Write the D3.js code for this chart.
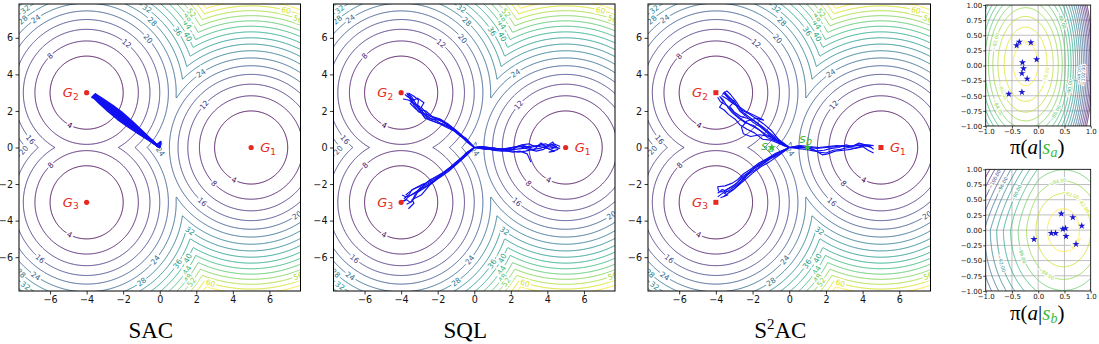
<!DOCTYPE html>
<html><head><meta charset="utf-8">
<script src="https://cdn.jsdelivr.net/npm/d3@7"></script>
<style>body{margin:0;background:#fff}svg{display:block}</style>
</head><body>
<svg id="c" width="1099" height="344"></svg>
<script>
// ---------------- DATA ----------------
const goals = [[5,0],[-4,3],[-4,-3]];
const goalSub = ["1","2","3"];
const envLevels = [4,8,12,16,20,24,28,32,36,40,44,48,52,56,60,64];
const envTicks = [-6,-4,-2,0,2,4,6];
const panelTitles = ["SAC","SQL","S2AC"];
// contour label anchors: [level, x, y]
const envLabelSpots = [[32,-7.4,7.6],[28,-7.5,7.0],[24,-6.9,7.2],[8,-6.0,5.0],[12,-1.8,5.7],[20,-0.7,5.9],[28,-0.4,6.9],[32,-0.7,7.6],
 [36,0.69,6.17],[40,1.24,5.9],[44,1.5,6.72],[48,1.6,7.18],[52,1.97,7.54],[56,7.55,7.0],[60,6.9,7.47],[24,2.24,4.09],[12,2.4,2.35],
 [4,-4.9,1.25],[16,-7.1,0.42],[20,-7.47,-0.13],[24,0.04,-0.22],[8,-6,-0.95],[4,4.07,-1.77],[8,2.97,-1.96],[16,2.33,-2.97],[20,7.5,-3.7],
 [4,-4.9,-4.7],[32,1.7,-4.5],[16,-6.55,-6.08],[28,-7.6,-6.9],[24,-6.8,-7.05],[32,-7.37,-7.6],[28,-1.05,-7.27],[24,-0.32,-6.08],
 [36,0.69,-6.17],[40,1.24,-5.9],[44,1.5,-6.72],[48,1.6,-7.18],[52,1.97,-7.54],[60,2.8,-7.36],[56,7.55,-7.0]];

const sacTraj = [
 [[0,0],[0.05,0.32],[-0.12,0.18],[0,0]],
 [[0,0],[-0.53,0.45],[-1.04,0.90],[-1.56,1.36],[-2.09,1.80],[-2.64,2.22],[-3.19,2.63],[-3.57,2.89]],
 [[0,0],[-0.55,0.41],[-1.11,0.816],[-1.67,1.22],[-2.22,1.63],[-2.76,2.07],[-3.28,2.52],[-3.62,2.82]],
 [[0,0],[-0.515,0.46],[-1.018,0.933],[-1.533,1.389],[-2.067,1.827],[-2.619,2.241],[-3.178,2.643],[-3.55,2.91]],
 [[0,0],[-0.559,0.407],[-1.13,0.79],[-1.694,1.186],[-2.24,1.61],[-2.762,2.062],[-3.29,2.50],[-3.64,2.80]],
 [[0,0],[-0.534,0.438],[-1.068,0.871],[-1.595,1.311],[-2.129,1.749],[-2.681,2.163],[-3.228,2.581],[-3.54,2.93]],
 [[0,0],[-0.546,0.422],[-1.092,0.839],[-1.639,1.257],[-2.172,1.694],[-2.725,2.109],[-3.271,2.526],[-3.66,2.77]],
 [[0,0],[-0.52,0.45],[-1.04,0.91],[-1.57,1.34],[-2.10,1.78],[-2.66,2.19],[-3.22,2.60],[-3.59,2.87]],
 [[0,0],[-0.565,0.399],[-1.142,0.777],[-1.707,1.171],[-2.228,1.624],[-2.743,2.085],[-3.259,2.542],[-3.6,2.85]],
 [[0,0],[-0.5,0.43],[-1.06,0.87],[-1.6,1.33],[-2.15,1.76],[-2.7,2.16],[-3.25,2.6],[-3.7,2.75],[-3.5,2.95]],
 [[0,0],[-0.509,0.469],[-1.006,0.949],[-1.508,1.420],[-2.024,1.882],[-2.576,2.296],[-3.147,2.682],[-3.538,2.928]],
 [[0,0],[-0.571,0.391],[-1.154,0.761],[-1.732,1.140],[-2.296,1.538],[-2.824,1.984],[-3.333,2.448],[-3.662,2.772]],
 [[0,0],[-0.521,0.453],[-1.030,0.917],[-1.546,1.374],[-2.067,1.827],[-2.626,2.234],[-3.190,2.627],[-3.569,2.889]],
 [[0,0],[-0.559,0.407],[-1.130,0.793],[-1.694,1.186],[-2.253,1.593],[-2.774,2.046],[-3.290,2.503],[-3.631,2.811]]
];
const sqlTraj = [
 [[0,0],[0.4,-0.05],[0.9,-0.08],[1.4,-0.12],[1.9,-0.05],[2.3,0.05],[2.7,0.1],[3.1,0.0],[3.5,0.12],[3.9,0.2],[4.2,0.05],[4.5,0.0]],
 [[0,0],[0.5,0.02],[1.0,-0.15],[1.5,-0.2],[2.0,-0.18],[2.4,-0.25],[2.8,-0.2],[3.2,-0.1],[3.6,-0.05],[4.0,0.1],[4.3,0.3],[4.4,0.1],[4.6,-0.05]],
 [[0,0],[0.3,0.05],[0.8,0.0],[1.2,-0.05],[1.8,-0.1],[2.2,0.0],[2.6,0.15],[3.0,0.2],[3.3,0.05],[3.7,0.15],[4.1,-0.1],[4.4,-0.2],[4.1,-0.25],[4.6,-0.1]],
 [[0,0],[0.6,-0.1],[1.1,-0.05],[1.6,-0.15],[2.1,-0.25],[2.5,-0.2],[2.9,-0.35],[3.1,-0.8]],
 [[0,0],[0.5,-0.05],[1.0,-0.1],[1.7,-0.18],[2.2,-0.1],[2.7,-0.05],[3.2,0.1],[3.6,0.05],[4.0,-0.05],[4.3,0.0],[4.7,-0.05]],
 [[0,0],[0.4,0.0],[1.0,-0.05],[1.5,-0.1],[2.0,0.0],[2.5,0.05],[3.0,-0.1],[3.4,-0.2],[3.8,-0.1],[4.2,0.15],[4.5,0.05],[4.2,-0.1]],
 [[0,0],[0.45,0.05],[0.95,-0.02],[1.45,-0.08],[2.05,-0.12],[2.45,0.08],[2.85,0.05],[3.25,-0.15],[3.65,0.25],[3.95,0.05],[4.35,0.2],[4.7,0.05]],
 [[0,0],[-0.4,0.4],[-0.8,0.72],[-1.2,1.0],[-1.6,1.25],[-2.0,1.35],[-2.4,1.5],[-2.8,1.75],[-3.0,2.1],[-3.2,2.4],[-3.4,2.75],[-3.65,2.95]],
 [[0,0],[-0.5,0.45],[-0.9,0.85],[-1.3,1.15],[-1.7,1.4],[-2.1,1.6],[-2.5,1.75],[-2.9,1.95],[-3.1,2.3],[-3.05,2.6],[-3.3,2.8],[-3.6,2.98]],
 [[0,0],[-0.3,0.25],[-0.7,0.6],[-1.1,0.9],[-1.5,1.1],[-1.9,1.3],[-2.3,1.45],[-2.7,1.6],[-2.9,1.9],[-3.2,2.1],[-3.5,2.4],[-3.3,2.6],[-3.7,2.8]],
 [[0,0],[-0.45,0.5],[-0.95,0.8],[-1.4,1.2],[-1.8,1.5],[-2.2,1.6],[-2.6,1.85],[-2.9,2.2],[-2.75,2.45],[-3.1,2.7],[-3.4,2.55],[-3.55,2.9]],
 [[0,0],[-0.35,0.35],[-0.85,0.7],[-1.25,1.05],[-1.65,1.2],[-2.05,1.45],[-2.5,1.65],[-2.8,1.9],[-3.0,2.25],[-3.35,2.45],[-3.6,2.6],[-3.9,2.65]],
 [[0,0],[-0.55,0.55],[-1.0,0.95],[-1.45,1.3],[-1.85,1.55],[-2.3,1.7],[-2.65,2.0],[-3.0,2.05],[-3.25,2.35],[-3.5,2.7],[-3.8,2.9]],
 [[0,0],[-0.4,0.3],[-0.75,0.65],[-1.15,0.95],[-1.55,1.3],[-1.95,1.5],[-2.35,1.55],[-2.75,1.8],[-3.05,1.95],[-3.3,2.3],[-3.45,2.55],[-3.7,3.0]],
 [[0,0],[-0.4,-0.35],[-0.9,-0.8],[-1.3,-1.15],[-1.8,-1.5],[-2.2,-1.85],[-2.6,-2.1],[-3.0,-2.3],[-3.3,-2.5],[-3.6,-2.7],[-3.85,-2.95]],
 [[0,0],[-0.5,-0.5],[-1.0,-0.95],[-1.4,-1.3],[-1.9,-1.65],[-2.3,-1.95],[-2.7,-2.2],[-3.1,-2.45],[-3.3,-2.8],[-3.5,-3.0],[-3.7,-2.85],[-4.0,-2.95]],
 [[0,0],[-0.35,-0.25],[-0.8,-0.65],[-1.2,-1.0],[-1.65,-1.35],[-2.1,-1.7],[-2.5,-1.9],[-2.8,-2.0],[-3.2,-2.2],[-3.5,-2.4],[-3.75,-2.6]],
 [[0,0],[-0.45,-0.4],[-0.95,-0.9],[-1.4,-1.2],[-1.85,-1.55],[-2.3,-1.9],[-2.6,-2.25],[-2.9,-2.6],[-3.2,-2.75],[-3.4,-2.85],[-3.3,-3.05],[-3.6,-3.35]],
 [[0,0],[-0.5,-0.4],[-1.05,-0.85],[-1.5,-1.25],[-2.0,-1.6],[-2.4,-1.75],[-2.75,-2.05],[-3.05,-2.4],[-3.45,-2.6],[-3.75,-2.7],[-3.95,-2.6]],
 [[0,0],[-0.3,-0.3],[-0.75,-0.7],[-1.25,-1.05],[-1.7,-1.45],[-2.15,-1.8],[-2.55,-2.0],[-2.95,-2.2],[-3.25,-2.6],[-3.4,-2.95],[-3.7,-3.1]],
 [[0,0],[-0.45,-0.3],[-0.85,-0.75],[-1.35,-1.1],[-1.75,-1.4],[-2.2,-1.65],[-2.65,-1.95],[-3.0,-2.15],[-3.4,-2.3],[-3.55,-2.55],[-3.85,-2.8]]
];
const s2acTraj = [
 [[0,0],[-0.4,0.25],[-0.85,0.45],[-1.2,0.8],[-1.6,1.15],[-2.0,1.4],[-2.35,1.7],[-2.7,2.0],[-2.9,2.3],[-3.2,2.5],[-3.45,2.7],[-3.7,2.85]],
 [[0,0],[-0.5,0.3],[-0.9,0.6],[-1.3,0.95],[-1.7,1.3],[-2.1,1.6],[-2.5,1.9],[-2.8,2.2],[-3.0,2.55],[-3.35,2.75],[-3.6,3.0]],
 [[0,0],[-0.6,0.35],[-1.1,0.6],[-1.6,0.7],[-2.1,0.6],[-2.5,0.75],[-2.6,1.1],[-2.3,1.45],[-1.8,1.6],[-1.4,1.5],[-1.9,1.75],[-2.4,2.0],[-2.9,2.35],[-3.3,2.65],[-3.5,2.95]],
 [[0,0],[-0.35,0.15],[-0.8,0.5],[-1.25,0.7],[-1.7,1.0],[-2.15,1.25],[-2.55,1.5],[-2.9,1.8],[-3.15,2.05],[-3.4,2.3],[-3.75,2.5],[-3.9,2.75]],
 [[0,0],[-0.45,0.35],[-1.0,0.75],[-1.4,1.1],[-1.9,1.45],[-2.3,1.6],[-2.65,1.7],[-3.0,1.95],[-3.25,2.25],[-3.0,2.5],[-3.3,2.8],[-3.55,3.05]],
 [[0,0],[-0.3,0.1],[-0.7,0.35],[-1.2,0.55],[-1.55,0.9],[-1.95,1.2],[-2.4,1.35],[-2.75,1.6],[-3.1,1.9],[-3.35,2.2],[-3.6,2.6],[-3.8,2.8]],
 [[0,0],[-0.55,0.4],[-0.95,0.9],[-1.35,1.25],[-1.75,1.55],[-2.2,1.85],[-2.6,2.05],[-2.85,2.45],[-3.2,2.9],[-3.4,3.1],[-3.65,2.9]],
 [[0,0],[-0.5,0.2],[-1.0,0.4],[-1.45,0.45],[-1.9,0.8],[-2.3,1.0],[-2.7,1.25],[-2.95,1.55],[-3.3,1.8],[-3.55,2.05],[-3.8,2.2],[-3.6,2.5],[-3.75,2.75]],
 [[0,0],[-0.45,-0.25],[-0.9,-0.5],[-1.35,-0.75],[-1.8,-1.05],[-2.2,-1.35],[-2.55,-1.6],[-2.85,-1.95],[-3.15,-2.15],[-3.5,-2.35],[-3.8,-2.45]],
 [[0,0],[-0.5,-0.35],[-1.0,-0.6],[-1.5,-0.95],[-1.9,-1.25],[-2.35,-1.55],[-2.7,-1.8],[-3.05,-2.1],[-3.4,-2.3],[-3.7,-2.55],[-3.9,-2.7]],
 [[0,0],[-0.35,-0.15],[-0.8,-0.35],[-1.2,-0.6],[-1.65,-0.85],[-2.05,-1.15],[-2.5,-1.45],[-2.8,-1.75],[-3.1,-1.95],[-3.5,-2.1],[-3.9,-2.15],[-3.85,-2.4]],
 [[0,0],[-0.6,-0.45],[-1.1,-0.8],[-1.55,-1.05],[-2.0,-1.4],[-2.4,-1.75],[-2.75,-2.05],[-3.1,-2.35],[-3.4,-2.55],[-3.6,-2.7]],
 [[0,0],[-0.4,-0.2],[-0.85,-0.45],[-1.3,-0.7],[-1.7,-0.95],[-2.1,-1.3],[-2.45,-1.7],[-2.8,-2.0],[-3.2,-2.3],[-3.55,-2.5],[-3.35,-2.6],[-3.75,-2.75]],
 [[0,0],[-0.55,-0.3],[-1.05,-0.55],[-1.45,-0.9],[-1.95,-1.15],[-2.3,-1.45],[-2.65,-1.9],[-3.0,-2.25],[-3.3,-2.45],[-3.65,-2.3],[-3.9,-2.5]],
 [[0,0],[0.5,0.0],[1.0,0.02],[1.5,-0.05],[2.0,0.0],[2.5,0.05],[2.9,0.1],[3.3,0.05],[3.7,0.1],[4.1,0.1],[4.4,0.05],[4.6,-0.1]],
 [[0,0],[0.4,-0.05],[0.9,-0.1],[1.4,-0.2],[1.9,-0.15],[2.3,-0.05],[2.7,0.0],[3.1,0.15],[3.4,0.05],[3.8,0.2],[4.2,0.15],[4.6,0.1]],
 [[0,0],[0.5,0.05],[1.1,-0.05],[1.6,-0.25],[2.0,-0.3],[2.4,-0.15],[2.8,-0.1],[3.2,0.0],[3.6,-0.05],[4.0,0.05],[4.3,-0.15],[4.6,-0.3]],
 [[0,0],[0.45,0.08],[0.95,0.0],[1.3,-0.1],[1.8,-0.4],[2.1,-0.35],[2.5,-0.2],[2.95,-0.15],[3.35,-0.1],[3.7,0.0],[4.15,0.1],[4.5,0.0]],
 [[0,0],[0.6,0.1],[1.1,0.05],[1.6,0.0],[2.1,0.05],[2.6,0.1],[3.0,0.05],[3.5,0.1],[3.8,0.25],[4.1,0.15],[4.5,0.1]]
];
const stateA = [-0.95,0.0];
const stateB = [1.0,0.0];

// small Q panels
const qTicksY = [-1,-0.75,-0.5,-0.25,0,0.25,0.5,0.75,1];
const qTicksX = [-1,-0.5,0,0.5,1];
const levelsA = [-114,-112,-110,-108,-106,-104,-102,-100,-98,-96,-94,-92,-90,-88,-86,-84,-82,-80,-78,-76];
const levelsB = [-104,-102,-100,-98,-96,-94,-92,-90,-88,-86,-84,-82,-80];
const starsA = [[-0.36,0.39],[-0.41,0.33],[-0.14,0.38],[-0.30,0.05],[-0.28,-0.05],[-0.31,-0.13],[-0.21,-0.22],[-0.03,0.10],[-0.56,-0.47],[-0.31,-0.44]];
const starsB = [[0.44,0.27],[0.66,0.21],[0.83,0.07],[0.47,0.02],[0.52,0.03],[0.53,-0.10],[0.25,-0.05],[0.33,-0.05],[0.72,-0.23],[-0.08,-0.15]];
const labelsA = [[-82,-0.9,0.45],[-80,-0.7,-0.45],[-76,-0.2,0.5],[-84,-0.85,-0.8],[-78,0.1,-0.15],[-86,0.3,-0.75],[-90,0.55,-0.35],[-98,0.75,-0.15],[-102,0.82,-0.15],[-88,0.5,0.8]];
const labelsB = [[-82,0.9,0.45],[-84,0.3,-0.4],[-84,0.35,0.95],[-86,-0.1,-0.3],[-80,0.75,-0.3],[-90,-0.4,0.6],[-96,-0.7,0.75],[-100,-0.85,0.85],[-88,0.85,-0.85],[-92,-0.6,-0.5],[-82,0.6,0.5]];
// field model parameters (Q-value landscapes)
const qA = {q0:-75, k:18, cx:-0.24, cy:0.02, sy:1.5, kr:20, xr:0.35};
const qB = {q0:-78.4, k:9.5, cx:0.48, cy:0.0, sy:1.15, kul:6};

// ---------------- DRAW ----------------
const svg = d3.select("#c");
const defs = svg.append("defs");
const envX = [-7.7,7.7], envY = [-7.85,7.85];
const RED = "#e62a22", BLUE = "#1010f0", GREEN = "#3dbb3d";
const envColor = v => d3.interpolateViridis((v-envLevels[0])/(envLevels[envLevels.length-1]-envLevels[0]));

function envCost(x,y){ let m=Infinity; for(const g of goals){ const d=(x-g[0])**2+(y-g[1])**2; if(d<m) m=d; } return m; }
function fieldA(x,y){ const dx=x-qA.cx, dy=(y-qA.cy)/qA.sy; return qA.q0 - qA.k*(dx*dx+dy*dy) - qA.kr*Math.max(0,x-qA.xr)**2; }
function fieldB(x,y){ const dx=x-qB.cx, dy=(y-qB.cy)/qB.sy; const r=Math.sqrt(dx*dx+dy*dy); return qB.q0 - qB.k*Math.pow(r,1.5) - qB.kul*Math.max(0,-x)*Math.max(0,y); }

function gridContours(f, lo, hi, step, levels){
  const n = Math.round((hi-lo)/step)+1;
  const vals = new Float64Array(n*n);
  for(let j=0;j<n;j++) for(let i=0;i<n;i++) vals[j*n+i] = f(lo+i*step, lo+j*step);
  return {lo, step, c: d3.contours().size([n,n]).thresholds(levels)(vals)};
}
function onLevel(f, c, a, lev){
  let ux=a[0]-c[0], uy=a[1]-c[1]; const n=Math.hypot(ux,uy)||1; ux/=n; uy/=n;
  const s0 = Math.sign(f(c[0],c[1])-lev);
  for(let t=0.002;t<20;t+=0.002){ const x=c[0]+t*ux, y=c[1]+t*uy; if(Math.sign(f(x,y)-lev)!==s0) return [x,y]; }
  return a;
}
function labelAngle(f, p, xs, ys){
  const h=1e-3;
  const gx=(f(p[0]+h,p[1])-f(p[0]-h,p[1]))/(2*h), gy=(f(p[0],p[1]+h)-f(p[0],p[1]-h))/(2*h);
  const kx=Math.abs(xs(1)-xs(0)), ky=Math.abs(ys(1)-ys(0));
  const px=gx/kx, py=-gy/ky;
  let a=Math.atan2(px, -py)*180/Math.PI;
  if(a>90) a-=180; if(a<-90) a+=180;
  return a;
}
function drawContours(g, cont, xs, ys, color, sw){
  const path = d3.geoPath(d3.geoTransform({point(x,y){ this.stream.point(xs(cont.lo+(x-0.5)*cont.step), ys(cont.lo+(y-0.5)*cont.step)); }}));
  g.selectAll(null).data(cont.c).join("path").attr("d",path).attr("fill","none")
    .attr("stroke",d=>color(d.value)).attr("stroke-width",sw);
}
function drawLabels(g, f, spots, centerOf, xs, ys, color, fs, fmt){
  spots.forEach(s=>{
    const lev=s[0], a=[s[1],s[2]];
    const p=onLevel(f, centerOf(a), a, lev);
    const ang=labelAngle(f,p,xs,ys);
    g.append("text").attr("transform",`translate(${xs(p[0])},${ys(p[1])}) rotate(${ang})`)
      .attr("text-anchor","middle").attr("dy","0.35em")
      .style("font-family","DejaVu Sans").style("font-size",fs+"px")
      .attr("fill",color(lev)).attr("stroke","#fff").attr("stroke-width",fs*0.45).attr("paint-order","stroke")
      .text(fmt(lev));
  });
}
function nearestGoal(a){ let best=goals[0],m=Infinity; for(const g of goals){ const d=(a[0]-g[0])**2+(a[1]-g[1])**2; if(d<m){m=d;best=g;} } return best; }

const envCont = gridContours(envCost, -8.4, 8.4, 0.04, envLevels);
const panels = [
 {id:0,l:19,r:300.5,t:4,b:291,traj:sacTraj,sq:false,title:0,tw:1.9},
 {id:1,l:333.5,r:615,t:4,b:291,traj:sqlTraj,sq:false,title:1,tw:1.15},
 {id:2,l:648,r:930.5,t:4,b:291,traj:s2acTraj,sq:true,title:2,tw:1.15}
];
const line = d3.line();

panels.forEach(p=>{
  const xs=d3.scaleLinear().domain(envX).range([p.l,p.r]);
  const ys=d3.scaleLinear().domain(envY).range([p.b,p.t]);
  defs.append("clipPath").attr("id","clip"+p.id).append("rect").attr("x",p.l).attr("y",p.t).attr("width",p.r-p.l).attr("height",p.b-p.t);
  const g=svg.append("g").attr("clip-path",`url(#clip${p.id})`);
  drawContours(g, envCont, xs, ys, envColor, 0.9);
  drawLabels(g, envCost, envLabelSpots, nearestGoal, xs, ys, envColor, 7.5, d=>d3.format(".0f")(d));
  g.selectAll(null).data(p.traj).join("path").attr("d",d=>line(d.map(q=>[xs(q[0]),ys(q[1])])))
    .attr("fill","none").attr("stroke",BLUE).attr("stroke-width",p.tw).attr("stroke-linejoin","round");
  goals.forEach((q,i)=>{
    if(p.sq) g.append("rect").attr("x",xs(q[0])-2.5).attr("y",ys(q[1])-2.5).attr("width",5).attr("height",5).attr("fill",RED);
    else g.append("circle").attr("cx",xs(q[0])).attr("cy",ys(q[1])).attr("r",2.6).attr("fill",RED);
    const right = q[0]>0;
    const t=g.append("text").attr("x", right? xs(q[0])+9 : xs(q[0])-8).attr("y",ys(q[1])+4.5)
      .attr("text-anchor", right?"start":"end").attr("fill",RED)
      .style("font-family","DejaVu Sans").style("font-style","italic").style("font-size","13px");
    t.append("tspan").text("G");
    t.append("tspan").attr("dy",2.5).style("font-size","9px").style("font-style","normal").text(goalSub[i]);
  });
  if(p.sq){
    const star=d3.symbol(d3.symbolStar,22);
    [stateA,stateB].forEach(s=>g.append("path").attr("d",star()).attr("transform",`translate(${xs(s[0])},${ys(s[1])})`).attr("fill",GREEN));
    const ta=g.append("text").attr("x",xs(stateA[0])+2).attr("y",ys(stateA[1])+2).attr("text-anchor","end").attr("fill",GREEN)
      .style("font-family","DejaVu Sans").style("font-style","italic").style("font-size","13px");
    ta.append("tspan").text("s"); ta.append("tspan").attr("dy",2).style("font-size","10px").text("a");
    const tb=g.append("text").attr("x",xs(stateB[0])-2).attr("y",ys(stateB[1])-5).attr("text-anchor","middle").attr("fill",GREEN)
      .style("font-family","DejaVu Sans").style("font-style","italic").style("font-size","13px");
    tb.append("tspan").text("s"); tb.append("tspan").attr("dy",2).style("font-size","10px").text("b");
  }
  svg.append("rect").attr("x",p.l).attr("y",p.t).attr("width",p.r-p.l).attr("height",p.b-p.t).attr("fill","none").attr("stroke","#000").attr("stroke-width",1);
  const ax=svg.append("g").attr("transform",`translate(0,${p.b})`).call(d3.axisBottom(xs).tickValues(envTicks).tickSize(3.5).tickPadding(1.5).tickFormat(d3.format("")));
  const ay=svg.append("g").attr("transform",`translate(${p.l},0)`).call(d3.axisLeft(ys).tickValues(envTicks).tickSize(3.5).tickPadding(2.5).tickFormat(d3.format("")));
  [ax,ay].forEach(a=>{ a.select(".domain").remove(); a.selectAll("text").style("font-family","DejaVu Sans").style("font-size","9.6px").attr("fill","#111"); a.selectAll("line").attr("stroke","#000").attr("stroke-width",0.8); });
  const tt=svg.append("text").attr("x",(p.l+p.r)/2-9).attr("y",338).attr("text-anchor","middle")
    .style("font-family","Liberation Serif, Times New Roman, serif").style("font-size","23px").attr("fill","#000");
  const title=panelTitles[p.title];
  if(title==="S2AC"){ tt.append("tspan").text("S"); tt.append("tspan").attr("dy",-9).style("font-size","15px").text("2"); tt.append("tspan").attr("dy",9).text("AC"); }
  else tt.text(title);
});

const qPanels = [
 {id:"a",l:985.7,r:1090.7,t:5,b:126,f:fieldA,levels:levelsA,stars:starsA,labels:labelsA,c:[qA.cx,qA.cy],sub:"a",ly:154},
 {id:"b",l:985.7,r:1090.7,t:169.3,b:291,f:fieldB,levels:levelsB,stars:starsB,labels:labelsB,c:[qB.cx,qB.cy],sub:"b",ly:320}
];
qPanels.forEach(p=>{
  const xs=d3.scaleLinear().domain([-1,1]).range([p.l,p.r]);
  const ys=d3.scaleLinear().domain([-1,1]).range([p.b,p.t]);
  defs.append("clipPath").attr("id","qclip"+p.id).append("rect").attr("x",p.l).attr("y",p.t).attr("width",p.r-p.l).attr("height",p.b-p.t);
  const g=svg.append("g").attr("clip-path",`url(#qclip${p.id})`);
  g.selectAll(null).data(qTicksX).join("line").attr("x1",d=>xs(d)).attr("x2",d=>xs(d)).attr("y1",p.t).attr("y2",p.b).attr("stroke","#b0b0b0").attr("stroke-width",0.8);
  g.selectAll(null).data(qTicksY).join("line").attr("y1",d=>ys(d)).attr("y2",d=>ys(d)).attr("x1",p.l).attr("x2",p.r).attr("stroke","#b0b0b0").attr("stroke-width",0.8);
  const lmin=p.levels[0], lmax=p.levels[p.levels.length-1];
  const col=v=>d3.interpolateViridis((v-lmin)/(lmax-lmin));
  const cont=gridContours(p.f,-1.1,1.1,0.01,p.levels);
  drawContours(g, cont, xs, ys, col, 0.8);
  drawLabels(g, p.f, p.labels, ()=>p.c, xs, ys, col, 4.8, d=>d3.format(".2f")(d));
  const star=d3.symbol(d3.symbolStar,16);
  g.selectAll(null).data(p.stars).join("path").attr("d",star()).attr("transform",d=>`translate(${xs(d[0])},${ys(d[1])})`).attr("fill","#1a1ad0");
  svg.append("rect").attr("x",p.l).attr("y",p.t).attr("width",p.r-p.l).attr("height",p.b-p.t).attr("fill","none").attr("stroke","#000").attr("stroke-width",0.8);
  const ax=svg.append("g").attr("transform",`translate(0,${p.b})`).call(d3.axisBottom(xs).tickValues(qTicksX).tickSize(2.5).tickPadding(1).tickFormat(d3.format(".1f")));
  const ay=svg.append("g").attr("transform",`translate(${p.l},0)`).call(d3.axisLeft(ys).tickValues(qTicksY).tickSize(2.5).tickPadding(1).tickFormat(d3.format(".2f")));
  [ax,ay].forEach(a=>{ a.select(".domain").remove(); a.selectAll("text").style("font-family","DejaVu Sans").style("font-size","7px").attr("fill","#111"); a.selectAll("line").attr("stroke","#000").attr("stroke-width",0.7); });
  const t=svg.append("text").attr("x",(p.l+p.r)/2-1).attr("y",p.ly).attr("text-anchor","middle")
    .style("font-family","Liberation Serif, Times New Roman, serif").style("font-size","21px").attr("fill","#000");
  t.append("tspan").text("π(");
  t.append("tspan").style("font-style","italic").text("a");
  t.append("tspan").text("|");
  t.append("tspan").style("font-style","italic").attr("fill",GREEN).text("s");
  t.append("tspan").style("font-style","italic").attr("fill",GREEN).style("font-size","14px").attr("dy",3).text(p.sub);
  t.append("tspan").attr("dy",-3).text(")");
});
</script>
</body></html>
